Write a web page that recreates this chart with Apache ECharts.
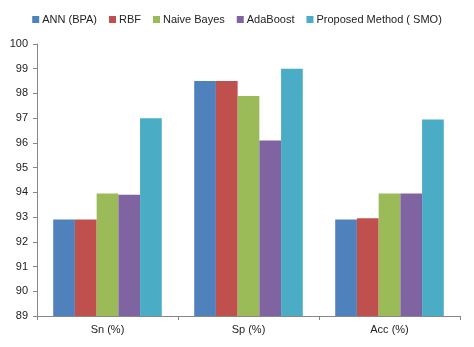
<!DOCTYPE html>
<html><head><meta charset="utf-8">
<script src="https://cdn.jsdelivr.net/npm/echarts@6/dist/echarts.min.js"></script>
<style>html,body{margin:0;padding:0;background:#fff}#c{width:474px;height:347px}</style>
</head><body><div id="c"></div>
<script>
const categories = ['Sn (%)', 'Sp (%)', 'Acc (%)'];
const seriesNames = ['ANN (BPA)', 'RBF', 'Naive Bayes', 'AdaBoost', 'Proposed Method ( SMO)'];
const annBpa = [92.9, 98.5, 92.9];
const rbf = [92.9, 98.5, 92.95];
const naiveBayes = [93.95, 97.9, 93.95];
const adaBoost = [93.9, 96.1, 93.95];
const smo = [97.0, 99.0, 96.95];
const colors = ['#4F81BD', '#C0504D', '#9BBB59', '#8064A2', '#4BACC6'];
const values = [annBpa, rbf, naiveBayes, adaBoost, smo];

const chart = echarts.init(document.getElementById('c'));
chart.setOption({
  animation: false,
  textStyle: { fontFamily: 'Liberation Sans, Arial, sans-serif' },
  legend: {
    top: 9, left: 'center', itemWidth: 7, itemHeight: 7, itemGap: 12,
    icon: 'rect',
    textStyle: { fontSize: 11, color: '#222', padding: [0, 0, 0, -2] },
    data: seriesNames
  },
  grid: { left: 37, right: 14, top: 44, bottom: 31 },
  xAxis: {
    type: 'category', data: categories,
    axisLine: { lineStyle: { color: '#868686' } },
    axisTick: { show: true, alignWithLabel: false, length: 4, lineStyle: { color: '#868686' } },
    axisLabel: { fontSize: 11, color: '#222', margin: 8 }
  },
  yAxis: {
    type: 'value', min: 89, max: 100, interval: 1,
    axisLine: { show: true, lineStyle: { color: '#868686' } },
    axisTick: { show: true, length: 4, lineStyle: { color: '#868686' } },
    axisLabel: { fontSize: 11, color: '#222', margin: 9 },
    splitLine: { show: false }
  },
  series: seriesNames.map((n, i) => ({
    name: n, type: 'bar', data: values[i],
    itemStyle: { color: colors[i] },
    barGap: '0%', barCategoryGap: '23%'
  }))
});
</script></body></html>
